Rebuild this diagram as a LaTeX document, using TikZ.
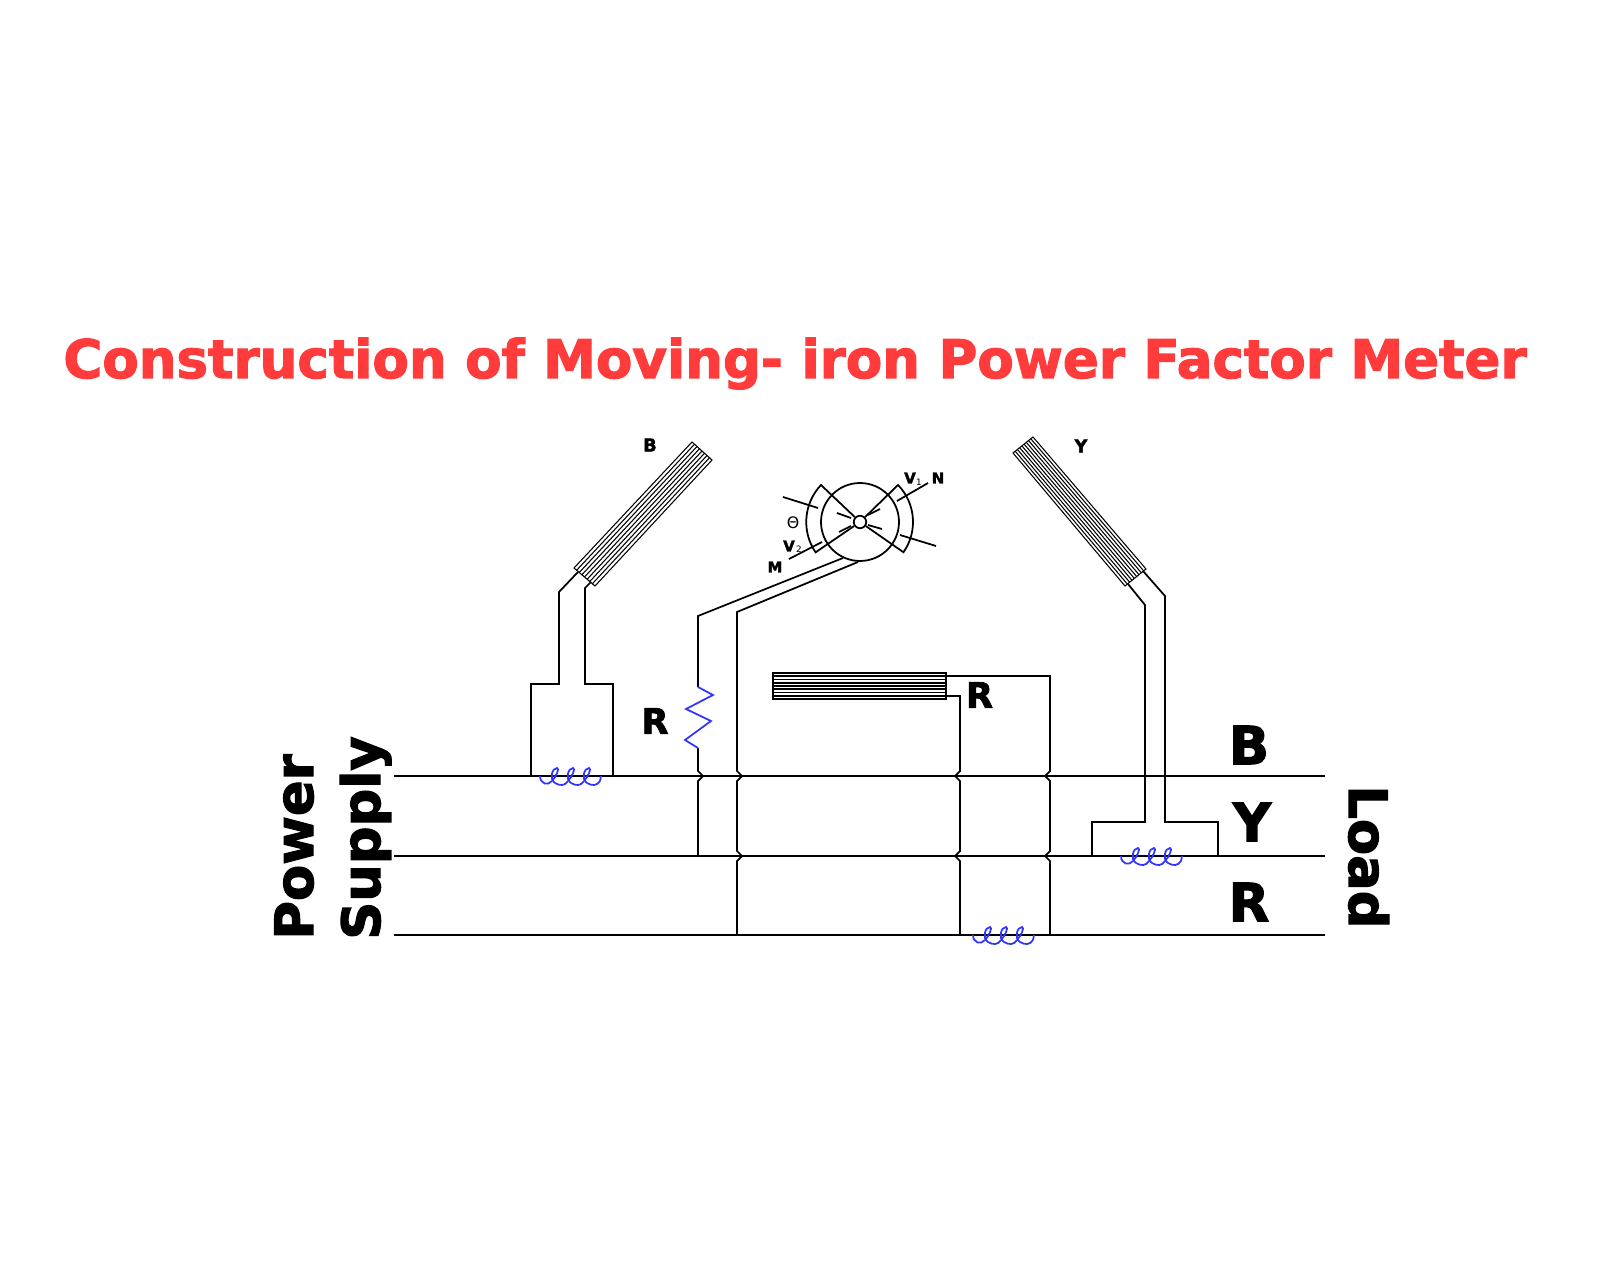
\documentclass[tikz,border=0pt]{standalone}
\usepackage{fontspec}
\setmainfont{DejaVu Sans}[BoldFeatures={FakeBold=2.2}]
\usetikzlibrary{calc}
\definecolor{titlered}{RGB}{255,59,59}
\definecolor{coilblue}{RGB}{51,51,255}
\tikzset{
  wire/.style={line width=1pt},
  fine/.style={line width=0.6pt},
  winding/.style={coilblue,line width=1pt},
  biglabel/.style={inner sep=0pt,font=\fontsize{30}{36}\selectfont\bfseries},
  midlabel/.style={inner sep=0pt,font=\fontsize{20}{24}\selectfont\bfseries},
  tinylabel/.style={inner sep=0pt,font=\fontsize{8.5}{10}\selectfont\bfseries},
  pics/coilwind/.style={code={
    \draw[winding] (0,0) .. controls (0,8) and (8,10) .. (12,5);
    \foreach \i in {0,16,32}{
      \draw[winding] (12+\i,5) .. controls (16+\i,1) and (20+\i,-8) .. (17+\i,-8)
        .. controls (12+\i,-8) and (9+\i,3) .. (15+\i,7)
        .. controls (20+\i,10) and (25+\i,10) .. (28+\i,5);
    }
    \draw[winding] (60,5) -- (61,0);
  }}
}

\begin{document}
\begin{tikzpicture}[x=0.02cm,y=-0.02cm]
  \useasboundingbox (0,0) rectangle (1600,1280);

  \node [inner sep=0pt,anchor=base,text=titlered,font=\fontsize{30.2}{36}\selectfont\bfseries] (title) at (795,378) {Construction of Moving- iron Power Factor Meter};

  % supply lines
  \coordinate (bl) at (394,776);
  \coordinate (br) at (1325,776);
  \coordinate (yl) at (394,856);
  \coordinate (yr) at (1325,856);
  \coordinate (rl) at (394,935);
  \coordinate (rr) at (1325,935);
  \draw [wire] (bl) -- (br);
  \draw [wire] (yl) -- (yr);
  \draw [wire] (rl) -- (rr);

  % moving iron
  \node [circle,draw,wire,minimum size=1.56cm,inner sep=0pt] (dial) at (860,522) {};
  \node [circle,draw,wire,minimum size=0.25cm,inner sep=0pt] (hub) at (860,522) {};
  \coordinate (v2a) at (821,485);
  \coordinate (v2b) at (816,552);
  \coordinate (v1a) at (898,485);
  \coordinate (v1b) at (903,552);
  \draw [wire] (hub) -- (v2a) arc[start angle=136.5,end angle=214.3,radius=1.076cm] -- (hub);
  \draw [wire] (hub) -- (v1a) arc[start angle=44.2,end angle=-34.9,radius=1.06cm] -- (hub);
  \draw [wire] (928,483) -- (897,501);
  \draw [wire] (789,559) -- (822,542);
  \draw [wire] (783,497) -- (818,508);
  \draw [wire] (900,535) -- (936,546);
  \draw [wire] (837,513) -- (851,518);
  \draw [wire] (839,532) -- (851,526);
  \draw [wire] (868,515) -- (880,509);
  \draw [wire] (868,525) -- (882,529);
  \node [tinylabel] (n) at (938,478) {N};
  \node [tinylabel] (v1) at (910,478) {V};
  \node [inner sep=0pt,font=\fontsize{5}{6}\selectfont] (v1s) at (919,482) {1};
  \node [inner sep=0pt,font=\fontsize{9}{10}\selectfont] (theta) at (793,523) {Θ};
  \node [tinylabel] (v2) at (789,546) {V};
  \node [inner sep=0pt,font=\fontsize{5}{6}\selectfont] (v2s) at (799,549) {2};
  \node [tinylabel] (m) at (775,567) {M};

  % leads to the moving iron
  \draw [wire] (843,558) -- (698,616) -- (698,687);
  \draw [wire] (698,748) -- (698,771) -- (703,776) -- (698,781) -- (yl -| 698,856);
  \draw [wire] (858,562) -- (737,612) -- (737,771) -- (742,776) -- (737,781) -- (737,851) -- (742,856) -- (737,861) -- (737,935);
  \draw [winding] (698,687) -- (713,695) -- (686,709) -- (711,721) -- (685,740) -- (698,748);
  \node [midlabel] (r1) at (655,721) {R};

  % B coil
  \coordinate (ba) at (692,442);
  \coordinate (bb) at (712,460);
  \coordinate (bc) at (595,586);
  \coordinate (bd) at (574,568);
  \draw [fine] (ba) -- (bb) -- (bc) -- (bd) -- cycle;
  \foreach \t in {1,...,7}
    \draw [fine] ($(ba)!\t/8!(bb)$) -- ($(bd)!\t/8!(bc)$);
  \draw [wire] (578,572) -- (559,592) -- (559,684) -- (531,684) -- (531,776);
  \draw [wire] (591,582) -- (585,588) -- (585,684) -- (613,684) -- (613,776);
  \pic at (540,776) {coilwind};
  \node [tinylabel,font=\fontsize{10}{12}\selectfont\bfseries] (blab) at (650,445) {B};

  % Y coil
  \coordinate (ya) at (1033,437);
  \coordinate (yb) at (1013,453);
  \coordinate (yc) at (1125,586);
  \coordinate (yd) at (1146,569);
  \draw [fine] (ya) -- (yb) -- (yc) -- (yd) -- cycle;
  \foreach \t in {1,...,8}
    \draw [fine] ($(ya)!\t/9!(yb)$) -- ($(yd)!\t/9!(yc)$);
  \draw [wire] (1128,584) -- (1145,605) -- (1145,822) -- (1092,822) -- (1092,856);
  \draw [wire] (1143,571) -- (1165,596) -- (1165,822) -- (1218,822) -- (1218,856);
  \pic at (1121,856) {coilwind};
  \node [tinylabel,font=\fontsize{10}{12}\selectfont\bfseries] (ylab) at (1081,446) {Y};

  % R coil
  \draw [wire] (773,673) rectangle (946,699);
  \foreach \t in {1,...,7}
    \draw [wire] (773,673+\t*3.25) -- (946,673+\t*3.25);
  \draw [wire] (946,676) -- (1050,676) -- (1050,771) -- (1045,776) -- (1050,781) -- (1050,851) -- (1045,856) -- (1050,861) -- (1050,935);
  \draw [wire] (946,696) -- (960,696) -- (960,771) -- (955,776) -- (960,781) -- (960,851) -- (955,856) -- (960,861) -- (960,935);
  \pic at (973,935) {coilwind};
  \node [midlabel] (r2) at (979.5,695) {R};

  % line and side labels
  \node [biglabel] (lb) at (1249,745) {B};
  \node [biglabel] (ly) at (1252,822) {Y};
  \node [biglabel] (lr) at (1249,902) {R};
  \node [biglabel,rotate=90,anchor=base west] (power) at (313,940) {Power};
  \node [biglabel,rotate=90,anchor=base west] (supply) at (380,940) {Supply};
  \node [biglabel,rotate=-90,anchor=base west] (load) at (1349,785) {Load};
\end{tikzpicture}
\end{document}
